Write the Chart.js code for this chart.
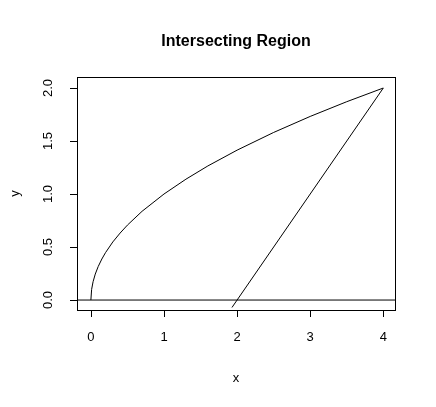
<!DOCTYPE html>
<html lang="en">
<head>
<meta charset="UTF-8">
<title>Intersecting Region</title>
<script src="https://cdn.jsdelivr.net/npm/chart.js"></script>
</head>
<body style="margin:0;background:#fff;">
<canvas id="c" width="436" height="407" style="display:block;width:436px;height:407px;"></canvas>
<script>
// sqrt(x) curve
const curveX = [0, 0.01, 0.03, 0.06, 0.1, 0.15, 0.2, 0.3, 0.4, 0.5, 0.7, 1, 1.3, 1.6, 2, 2.5, 3, 3.5, 4];
const curveY = [0, 0.1, 0.173, 0.245, 0.316, 0.387, 0.447, 0.548, 0.632, 0.707, 0.837, 1, 1.14, 1.265, 1.414, 1.581, 1.732, 1.871, 2];
// straight line
const lineX = [1.93, 4];
const lineY = [-0.07, 2];
// horizontal line at y = 0
const hX = [-1, 5];
const hY = [0, 0];
const xTicks = [0, 1, 2, 3, 4];
const yTicks = [0, 0.5, 1, 1.5, 2];
const yTickLabels = ['0.0', '0.5', '1.0', '1.5', '2.0'];

const pts = (xs, ys) => xs.map((x, i) => ({x: x, y: ys[i]}));
const ds = d => ({data: d, borderColor: '#000', borderWidth: 1, pointRadius: 0, showLine: true, tension: 0, fill: false});

const rAxes = {
  id: 'rAxes',
  afterDraw(chart) {
    const ctx = chart.ctx, a = chart.chartArea, xs = chart.scales.x, ys = chart.scales.y;
    ctx.save();
    ctx.strokeStyle = '#000'; ctx.fillStyle = '#000'; ctx.lineWidth = 1;
    ctx.strokeRect(a.left + 0.5, a.top + 0.5, a.right - a.left, a.bottom - a.top);
    ctx.font = '13px "Liberation Sans", Arial, sans-serif';
    ctx.beginPath();
    ctx.moveTo(xs.getPixelForValue(xTicks[0]), a.bottom + 0.5);
    ctx.lineTo(xs.getPixelForValue(xTicks[xTicks.length - 1]), a.bottom + 0.5);
    ctx.moveTo(a.left + 0.5, ys.getPixelForValue(yTicks[0]));
    ctx.lineTo(a.left + 0.5, ys.getPixelForValue(yTicks[yTicks.length - 1]));
    xTicks.forEach(t => { const p = Math.round(xs.getPixelForValue(t)) + 0.5; ctx.moveTo(p, a.bottom); ctx.lineTo(p, a.bottom + 7); });
    yTicks.forEach(t => { const p = Math.round(ys.getPixelForValue(t)) + 0.5; ctx.moveTo(a.left, p); ctx.lineTo(a.left - 7, p); });
    ctx.stroke();
    ctx.textAlign = 'center'; ctx.textBaseline = 'middle';
    xTicks.forEach(t => ctx.fillText(String(t), xs.getPixelForValue(t), a.bottom + 27));
    yTicks.forEach((t, i) => {
      ctx.save(); ctx.translate(a.left - 29, ys.getPixelForValue(t)); ctx.rotate(-Math.PI / 2);
      ctx.fillText(yTickLabels[i], 0, 0); ctx.restore();
    });
    const cx = (a.left + a.right) / 2, cy = (a.top + a.bottom) / 2;
    ctx.fillText('x', cx, 378);
    ctx.save(); ctx.translate(15, cy); ctx.rotate(-Math.PI / 2); ctx.fillText('y', 0, 0); ctx.restore();
    ctx.font = 'bold 16px "Liberation Sans", Arial, sans-serif';
    ctx.fillText('Intersecting Region', cx, 42);
    ctx.restore();
  }
};

new Chart(document.getElementById('c'), {
  type: 'scatter',
  data: { datasets: [ds(pts(curveX, curveY)), ds(pts(lineX, lineY)), ds(pts(hX, hY))] },
  options: {
    responsive: false, animation: false,
    layout: { padding: { left: 0, right: 41, top: 77, bottom: 0 } },
    plugins: { legend: { display: false }, tooltip: { enabled: false } },
    scales: {
      x: { min: -0.19, max: 4.16, ticks: { display: false }, grid: { display: false }, border: { display: false },
           afterFit: s => { s.height = 97; } },
      y: { min: -0.094, max: 2.104, ticks: { display: false }, grid: { display: false }, border: { display: false },
           afterFit: s => { s.width = 77; } }
    }
  },
  plugins: [rAxes]
});
</script>
</body>
</html>
